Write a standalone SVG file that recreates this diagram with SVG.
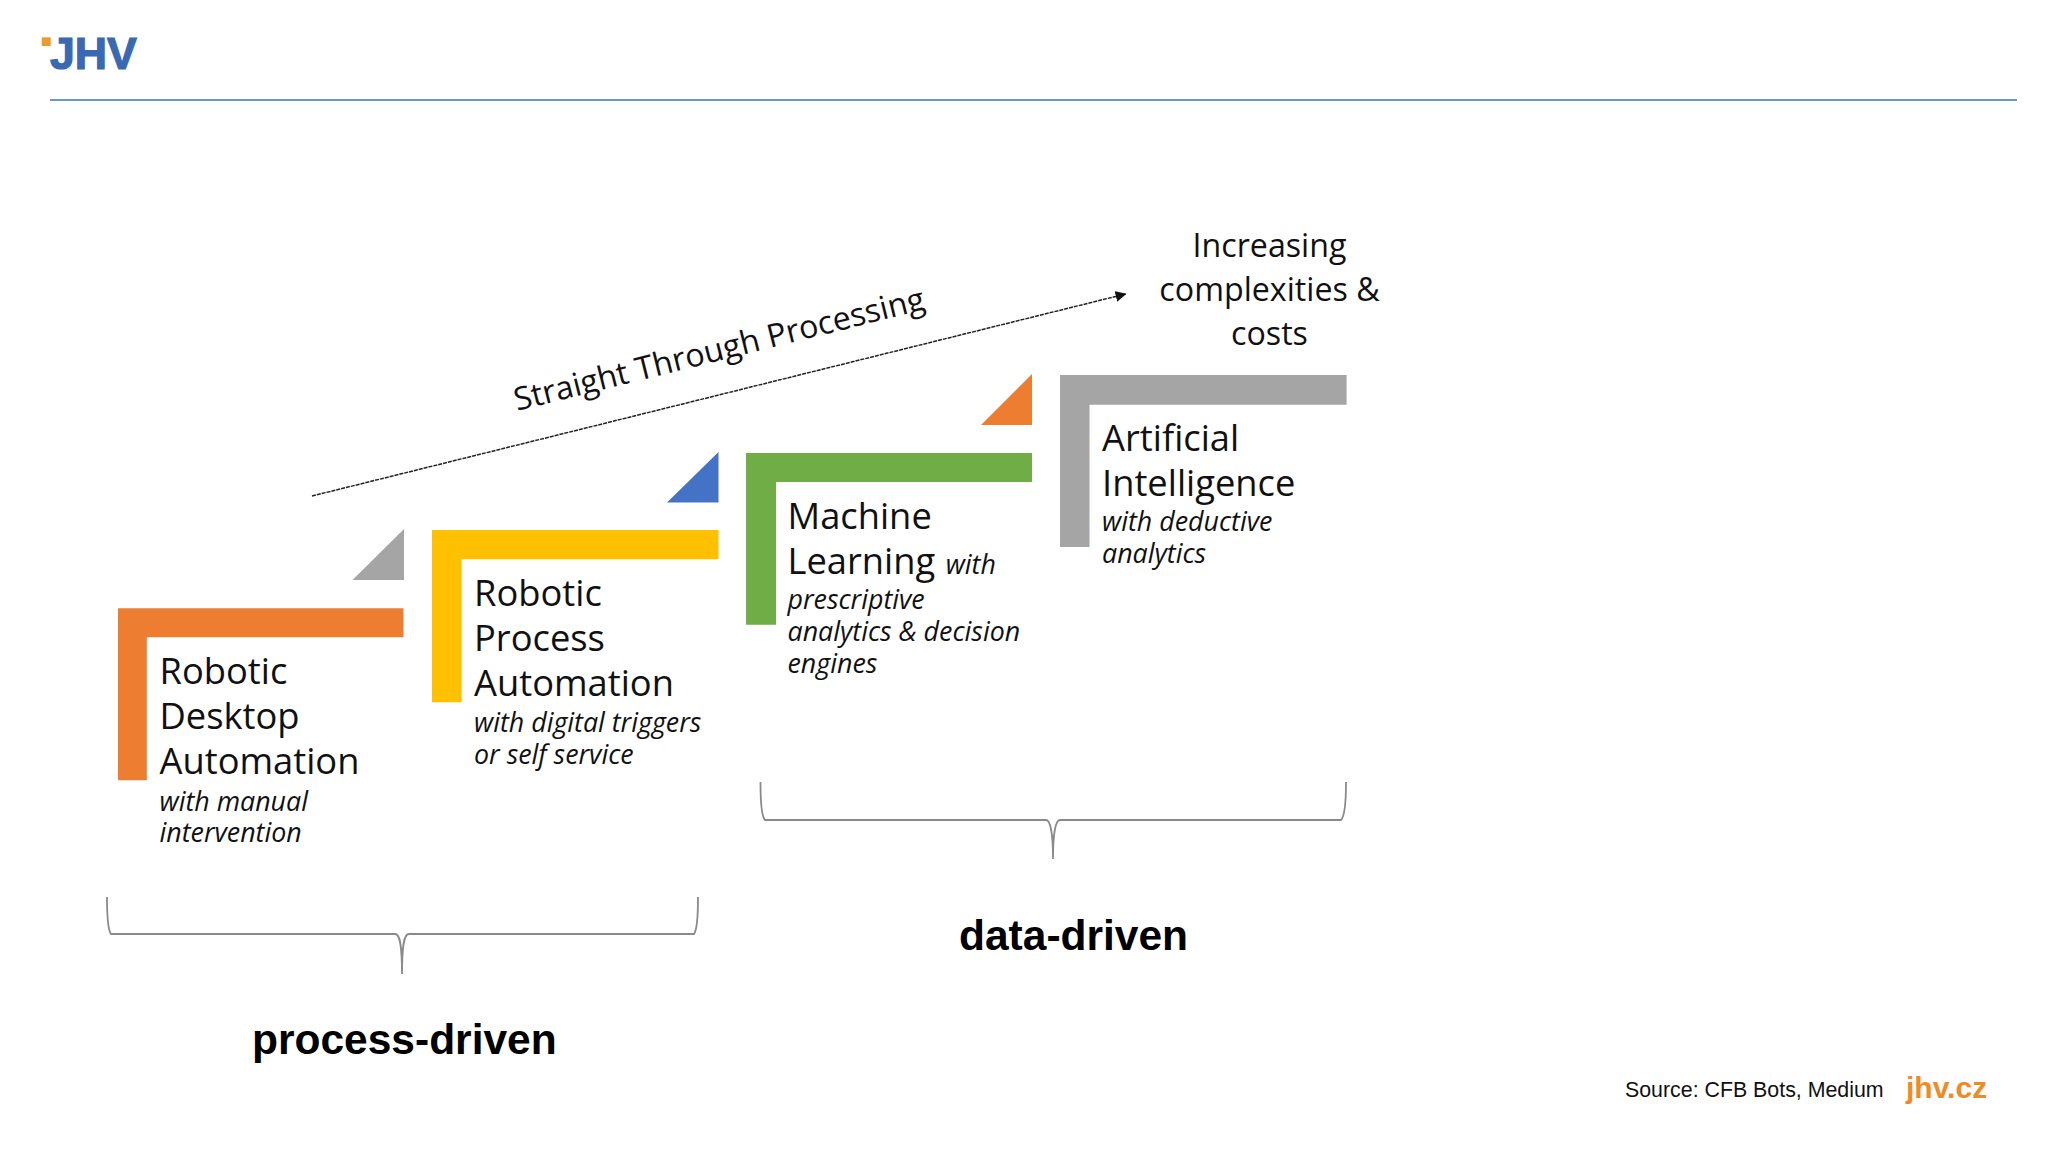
<svg xmlns="http://www.w3.org/2000/svg" width="2048" height="1152" viewBox="0 0 2048 1152">
<style>
text{fill:#111}
.h{font:36.3px "Open Sans","Noto Sans",sans-serif}
.l{font:32.2px "Open Sans","Noto Sans",sans-serif}
.s{font:italic 26.8px "Open Sans","Noto Sans",sans-serif}
.c{text-anchor:middle}
.b{font:bold 42.5px "Liberation Sans",Arial,sans-serif;fill:#000}
.brace{fill:none;stroke:#8a8a8a;stroke-width:1.8}
</style>
<defs>
<marker id="arrow" viewBox="0 0 10 10" refX="9" refY="5" markerWidth="11" markerHeight="11" markerUnits="userSpaceOnUse" orient="auto"><path d="M0 0L10 5L0 10z" fill="#111"/></marker>
</defs>
<rect width="2048" height="1152" fill="#fff"/>
<g id="header">
<rect x="41.7" y="37.3" width="9" height="8.7" fill="#EE9B2E"/>
<text x="50" y="69" style="font:bold 44.7px 'Liberation Sans',Arial,sans-serif;fill:#3A69B2;stroke:#3A69B2;stroke-width:1.2">JHV</text>
<path d="M50 100H2017" stroke="#3A77B5" stroke-width="1.6"/>
</g>
<g id="connectors">
<path d="M312 496L1125.5 294" stroke="#222" stroke-width="1.5" stroke-dasharray="4 1" fill="none" marker-end="url(#arrow)"/>
<path class="brace" d="M107 897C107 915 108 930 111 934L395 934C400 934 402 945 402 974C402 945 404 934 409 934L694 934C697 930 698 915 698 897"/>
<path class="brace" d="M760.5 782C760.5 800 761 816 765 820L1046 820C1050 820 1053 831 1053 859C1053 831 1056 820 1060 820L1341 820C1345 816 1346 800 1346 782"/>
</g>
<g id="label-stp">
<text class="l" transform="translate(517 411) rotate(-14)">Straight Through Processing</text>
</g>
<g id="label-increasing">
<text class="l c" x="1269.5" y="257">Increasing</text>
<text class="l c" x="1269.5" y="301">complexities &amp;</text>
<text class="l c" x="1269.5" y="345">costs</text>
</g>
<g id="node-rda">
<polygon points="352.5,580 404,580 404,529" fill="#A5A5A5"/>
<path d="M118 608.3H403.5V637.3H146.8V780.3H118z" fill="#ED7D31"/>
<text class="h" x="159.5" y="684">Robotic</text>
<text class="h" x="159.5" y="729">Desktop</text>
<text class="h" x="159.5" y="774">Automation</text>
<text class="s" x="159.5" y="811">with manual</text>
<text class="s" x="159.5" y="842">intervention</text>
</g>
<g id="node-rpa">
<polygon points="667,502.5 718.5,502.5 718.5,452" fill="#4472C4"/>
<path d="M432 530H718.5V559.3H461.6V702.3H432z" fill="#FFC000"/>
<text class="h" x="474" y="606">Robotic</text>
<text class="h" x="474" y="651">Process</text>
<text class="h" x="474" y="696">Automation</text>
<text class="s" x="474" y="732">with digital triggers</text>
<text class="s" x="474" y="764">or self service</text>
</g>
<g id="node-ml">
<polygon points="981,425 1032,425 1032,374" fill="#ED7D31"/>
<path d="M746 453H1032V482H776V624.7H746z" fill="#70AD47"/>
<text class="h" x="787.5" y="529">Machine</text>
<text class="h" x="787.5" y="574">Learning <tspan class="s" dx="1">with</tspan></text>
<text class="s" x="787.5" y="609">prescriptive</text>
<text class="s" x="787.5" y="641">analytics &amp; decision</text>
<text class="s" x="787.5" y="673">engines</text>
</g>
<g id="node-ai">
<path d="M1060 375H1346.6V404.7H1089.5V547H1060z" fill="#A5A5A5"/>
<text class="h" x="1102" y="451">Artificial</text>
<text class="h" x="1102" y="495.5">Intelligence</text>
<text class="s" x="1102" y="531">with deductive</text>
<text class="s" x="1102" y="563">analytics</text>
</g>
<g id="label-process"><text class="b" x="252" y="1054">process-driven</text></g>
<g id="label-data"><text class="b" x="959" y="950">data-driven</text></g>
<g id="footer">
<text x="1625" y="1096.5" style="font:21.35px 'Liberation Sans',Arial,sans-serif">Source: CFB Bots, Medium</text>
<text x="1906" y="1098" style="font:bold 30px 'Liberation Sans',Arial,sans-serif;fill:#F08A24">jhv.cz</text>
</g>
</svg>
